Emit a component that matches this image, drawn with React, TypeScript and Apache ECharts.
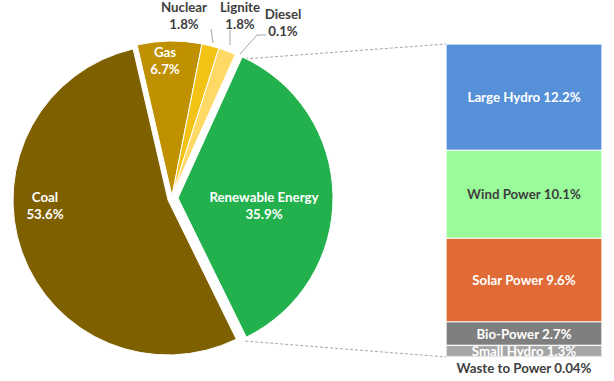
import React, { useEffect, useRef } from "react";
import * as echarts from "echarts";

const pieNames = ["Gas", "Nuclear", "Lignite", "Diesel", "Renewable Energy", "Coal"];
const pieValues = [6.7, 1.8, 1.8, 0.1, 35.9, 53.6];
const pieColors = ["#bf9000", "#f2c314", "#ffd966", "#ffe699", "#22b14c", "#7f6000"];

const barNames = ["Waste to Power", "Small Hydro", "Bio-Power", "Solar Power", "Wind Power", "Large Hydro"];
const barValues = [0.04, 1.3, 2.7, 9.6, 10.1, 12.2];
const barColors = ["#6b5a1e", "#a6a6a6", "#7f7f7f", "#e06b36", "#99fb99", "#5690d8"];
const barLabelColors = ["#404040", "#ffffff", "#ffffff", "#ffffff", "#404040", "#ffffff"];

const FONT = "Lato";
const TEXT_DARK = "#404040";
const FS = 13.3;

const RADIUS = 155;
const START = 103;
const GRID_LEFT = 446;
const GRID_TOP = 44;
const GRID_W = 156;
const GRID_H = 313;

// explosion groups (centres in px)
const groups = [
  { members: ["Coal"], center: [168, 200] },
  { members: ["Gas", "Nuclear", "Lignite", "Diesel"], center: [172, 196] },
  { members: ["Renewable Energy"], center: [178, 198] },
];

const labelPos: Record<string, any> = {
  Coal: { x: 45, y: 205 },
  Gas: { x: 165, y: 60 },
  "Renewable Energy": { x: 264, y: 205 },
  Nuclear: { x: 184, y: 15, line: [[213, 43], [212, 36], [211, 29]] },
  Lignite: { x: 240, y: 15, line: [[230, 45], [230, 38], [230, 30]] },
  Diesel: { x: 283, y: 22, line: [[240, 54], [257, 35], [266, 35]] },
};
const outsideNames = ["Nuclear", "Lignite", "Diesel"];

export default function App() {
  const ref = useRef<HTMLDivElement>(null);
  useEffect(() => {
    document.body.style.margin = "0";
    const chart = echarts.init(ref.current!, null, { renderer: "svg" });
    const pieTotal = pieValues.reduce((a, b) => a + b, 0);
    const barTotal = barValues.reduce((a, b) => a + b, 0);

    const pieSeries = groups.map((g) => ({
      type: "pie",
      center: g.center,
      radius: RADIUS,
      startAngle: START,
      clockwise: true,
      silent: true,
      avoidLabelOverlap: false,
      emphasis: { disabled: true },
      data: pieNames.map((n, i) => {
        const vis = g.members.includes(n);
        const outside = outsideNames.includes(n);
        return {
          name: n,
          value: pieValues[i],
          itemStyle: vis
            ? { color: pieColors[i], borderColor: "#ffffff", borderWidth: 1 }
            : { color: "rgba(0,0,0,0)", borderWidth: 0 },
          label: {
            show: vis,
            position: outside ? "outside" : "inside",
            color: outside ? TEXT_DARK : "#ffffff",
          },
          labelLine: {
            show: vis && outside,
            lineStyle: { color: "#a6a6a6", width: 1 },
          },
        };
      }),
      label: {
        formatter: "{b}\n{c}%",
        fontFamily: FONT,
        fontWeight: "bold",
        fontSize: FS,
        lineHeight: 17,
        align: "center",
      },
      labelLayout: (p: any) => {
        const name = pieNames[p.dataIndex];
        const pos = labelPos[name];
        if (!pos) return {};
        const r: any = { x: pos.x, y: pos.y, align: "center", verticalAlign: "middle" };
        if (pos.line) r.labelLinePoints = pos.line;
        return r;
      },
    }));

    const barSeries = barNames.map((n, i) => ({
      type: "bar",
      name: n,
      stack: "re",
      barWidth: "100%",
      silent: true,
      data: [barValues[i]],
      itemStyle: { color: barColors[i], borderColor: "#ffffff", borderWidth: i === 0 ? 0 : 0.6 },
      label: {
        show: true,
        position: i === 0 ? "bottom" : "inside",
        distance: 4,
        formatter: "{a} {c}%",
        color: barLabelColors[i],
        fontFamily: FONT,
        fontWeight: "bold",
        fontSize: FS,
      },
    }));

    chart.setOption({
      animation: false,
      grid: { left: GRID_LEFT, top: GRID_TOP, width: GRID_W, height: GRID_H },
      xAxis: { type: "category", data: ["Renewable"], show: false },
      yAxis: { type: "value", min: 0, max: barTotal, show: false },
      series: [...pieSeries, ...barSeries],
    });

    // connector lines
    const ren = groups[2];
    const idx = pieNames.indexOf("Renewable Energy");
    const before = pieValues.slice(0, idx).reduce((a, b) => a + b, 0);
    const a1 = ((START - (before / pieTotal) * 360) * Math.PI) / 180;
    const a2 = ((START - ((before + pieValues[idx]) / pieTotal) * 360) * Math.PI) / 180;
    const p1 = [ren.center[0] + RADIUS * Math.cos(a1) + 3, ren.center[1] - RADIUS * Math.sin(a1) + 2];
    const p2 = [ren.center[0] + RADIUS * Math.cos(a2) - 1, ren.center[1] - RADIUS * Math.sin(a2) + 4];
    const yTop = chart.convertToPixel({ yAxisIndex: 0 }, barTotal) as number;
    const yBot = chart.convertToPixel({ yAxisIndex: 0 }, 0) as number;
    const ls = { stroke: "#a6a6a6", lineWidth: 1, lineDash: [3, 2] };
    chart.setOption({
      graphic: [
        { type: "line", silent: true, shape: { x1: p1[0], y1: p1[1], x2: GRID_LEFT, y2: yTop }, style: ls },
        { type: "line", silent: true, shape: { x1: p2[0], y1: p2[1], x2: GRID_LEFT, y2: yBot }, style: ls },
      ],
    });

    return () => chart.dispose();
  }, []);
  return <div ref={ref} style={{ width: 614, height: 381 }} />;
}
